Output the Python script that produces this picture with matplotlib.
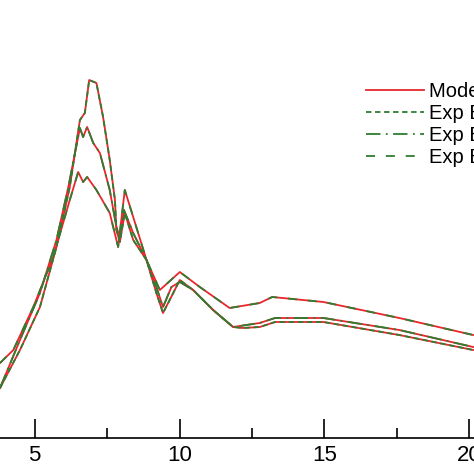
import matplotlib
matplotlib.use("Agg")
import matplotlib.pyplot as plt
from matplotlib.ticker import MultipleLocator

plt.rcParams['font.family'] = ['Liberation Sans', 'DejaVu Sans']

# curve A (highest peak)
xa = [3.80, 4.49, 5.18, 5.75, 6.21, 6.56, 6.73, 6.88, 7.13, 7.36, 7.59, 7.77, 7.82, 7.94, 8.11,
      8.40, 8.86, 9.20, 9.43, 9.66, 10.01, 10.47, 11.16, 11.85, 12.19, 12.77, 13.3, 14.97, 17.59, 20.14]
ya = [0.50, 0.88, 1.31, 1.91, 2.51, 3.18, 3.25, 3.58, 3.55, 3.21, 2.78, 2.38, 2.08, 1.96, 2.25,
      1.98, 1.78, 1.45, 1.25, 1.38, 1.58, 1.48, 1.28, 1.11, 1.10, 1.11, 1.16, 1.16, 1.03, 0.88]
# curve B (middle peak)
xb = [3.80, 4.49, 5.18, 5.75, 6.16, 6.56, 6.67, 6.81, 7.02, 7.25, 7.59, 7.82, 7.94, 8.08, 8.40,
      8.86, 9.20, 9.43, 9.72, 10.01, 10.47, 11.16, 11.85, 12.77, 13.3, 14.97, 17.59, 20.14]
yb = [0.50, 0.98, 1.45, 1.98, 2.51, 3.10, 3.01, 3.11, 2.95, 2.85, 2.48, 2.11, 2.01, 2.28, 2.05,
      1.78, 1.51, 1.31, 1.51, 1.56, 1.48, 1.28, 1.11, 1.15, 1.20, 1.20, 1.08, 0.91]
# curve C (lowest peak)
xc = [3.80, 4.26, 4.95, 5.64, 6.21, 6.50, 6.67, 6.81, 7.13, 7.59, 7.88, 8.11, 8.40, 8.86, 9.32,
      10.01, 10.70, 11.73, 12.77, 13.2, 14.97, 17.59, 20.14]
yc = [0.75, 0.88, 1.31, 1.81, 2.38, 2.66, 2.56, 2.61, 2.48, 2.25, 1.91, 2.48, 2.21, 1.78, 1.48,
      1.66, 1.51, 1.30, 1.35, 1.41, 1.36, 1.20, 1.03]

labels = ["Model Results", "Exp E Case", "Exp E Test 1", "Exp E Test 2"]
red = "#e8262b"
green = "#2e7d32"

fig = plt.figure(figsize=(4.74, 4.74), dpi=100)
ax = fig.add_axes([0, 36 / 474, 1, 438 / 474])

ax.plot(xa, ya, color=red, lw=1.3, label=labels[0])
ax.plot(xb, yb, color=red, lw=1.3)
ax.plot(xc, yc, color=red, lw=1.3)
ax.plot(xa, ya, color=green, lw=1.3, dashes=(3, 2), label=labels[1])
ax.plot(xb, yb, color=green, lw=1.3, dashes=(8, 3, 1, 3), label=labels[2])
ax.plot(xc, yc, color=green, lw=1.3, dashes=(5, 6), label=labels[3])

ax.set_xlim(3.8, 20.17)
ax.set_ylim(0, 4.38)
for s in ("top", "right", "left"):
    ax.spines[s].set_visible(False)
ax.spines["bottom"].set_linewidth(1.2)
ax.set_yticks([])
ax.xaxis.set_major_locator(MultipleLocator(5))
ax.xaxis.set_minor_locator(MultipleLocator(2.5))
ax.tick_params(axis="x", which="major", direction="in", length=14, width=1.2,
               labelsize=16, pad=5)
ax.tick_params(axis="x", which="minor", direction="in", length=7, width=1.2)

fig.legend(loc="upper left", bbox_to_anchor=(358 / 474, 1 - 74 / 474), frameon=False,
           fontsize=14.5, handlelength=2.9, handletextpad=0.25, labelspacing=0.15,
           borderaxespad=0)

fig.savefig("out.png", dpi=100)
